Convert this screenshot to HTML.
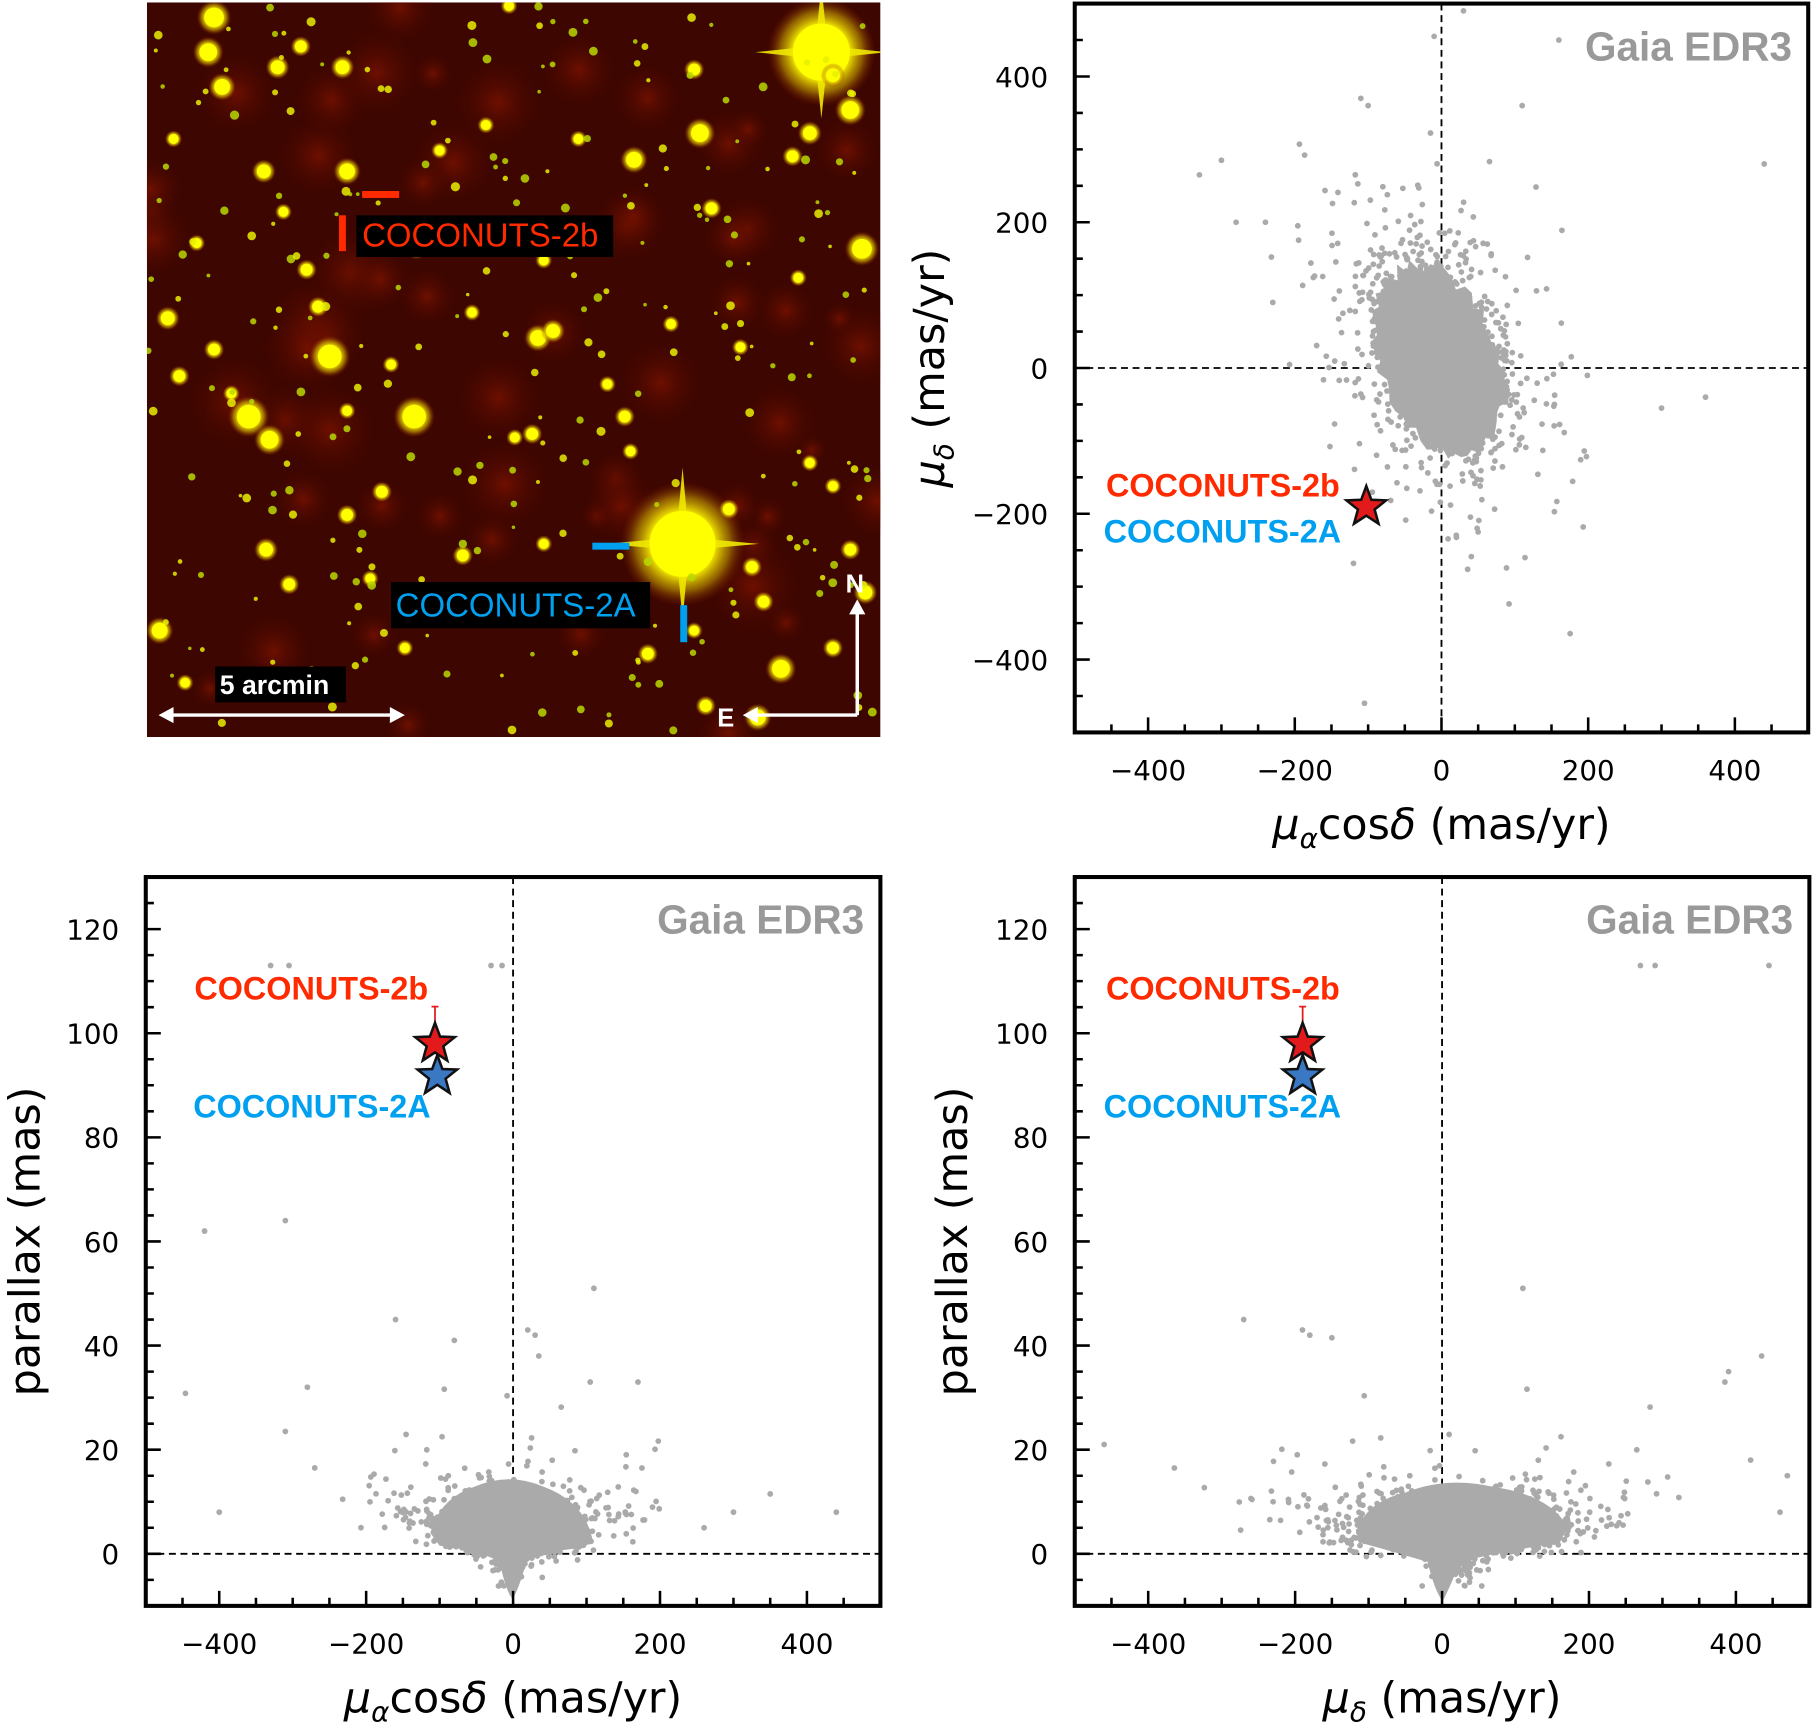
<!DOCTYPE html>
<html><head><meta charset="utf-8"><style>
html,body{margin:0;padding:0;background:#fff;}
svg{display:block;}
text{font-family:"DejaVu Sans","Liberation Sans",sans-serif;}
</style></head><body>
<svg id="s" width="1814" height="1724" viewBox="0 0 1568 1490" xmlns="http://www.w3.org/2000/svg">
<defs>
<radialGradient id="g1"><stop offset="0" stop-color="#ffff00"/><stop offset="0.5" stop-color="#f8f000"/><stop offset="0.75" stop-color="#c8a000" stop-opacity="0.6"/><stop offset="1" stop-color="#8a2000" stop-opacity="0"/></radialGradient>
<radialGradient id="g2"><stop offset="0" stop-color="#7a1200" stop-opacity="0.8"/><stop offset="1" stop-color="#3a0500" stop-opacity="0"/></radialGradient>
<clipPath id="imgclip"><rect x="127" y="2" width="634" height="635"/></clipPath>
<clipPath id="c1"><rect x="929" y="3" width="634" height="630"/></clipPath>
<clipPath id="c2"><rect x="126" y="758" width="635" height="630"/></clipPath>
<clipPath id="c3"><rect x="929" y="758" width="635" height="630"/></clipPath>
</defs>
<g id="img" clip-path="url(#imgclip)"><rect x="127" y="2" width="634" height="635" fill="#3e0600"/></g>
<g id="p1"></g><g id="p2"></g><g id="p3"></g>
</svg>
<script>
var S=document.getElementById('s'),NS='http://www.w3.org/2000/svg';
function el(p,t,a,txt){var e=document.createElementNS(NS,t);for(var k in a)e.setAttribute(k,a[k]);if(txt!=null)e.textContent=txt;(p||S).appendChild(e);return e;}
var seed=12345;function rnd(){seed=(seed*1103515245+12345)%2147483648;return seed/2147483648;}
function gs(){var u=rnd()||1e-9,v=rnd();return Math.sqrt(-2*Math.log(u))*Math.cos(2*Math.PI*v);}
// ---- image
var img=document.getElementById('img');
for(var i=0;i<60;i++){el(img,'circle',{cx:127+rnd()*634,cy:2+rnd()*635,r:15+rnd()*30,fill:'url(#g2)'});}
var big=[[710,45,26],[590,470,30]];
big.forEach(function(b){el(img,'circle',{cx:b[0],cy:b[1],r:b[2]*1.8,fill:'url(#g1)'});
 var L=b[2]*2.2;
 el(img,'path',{d:'M'+(b[0]-L)+' '+b[1]+' L'+b[0]+' '+(b[1]-6)+' L'+(b[0]+L)+' '+b[1]+' L'+b[0]+' '+(b[1]+6)+'Z M'+b[0]+' '+(b[1]-L)+' L'+(b[0]+6)+' '+b[1]+' L'+b[0]+' '+(b[1]+L)+' L'+(b[0]-6)+' '+b[1]+'Z',fill:'#f0e800',opacity:0.9});
 el(img,'circle',{cx:b[0],cy:b[1],r:b[2]*0.95,fill:'#ffff00'});});
var st=[[285,308,12],[358,360,12],[215,360,12],[233,380,9],[185,15,10],[192,75,8],[240,58,7],[228,148,7],[300,148,8],[296,58,7],[245,183,5],[185,302,6],[200,340,5],[155,325,6],[465,292,8],[478,286,7],[548,138,8],[605,115,9],[615,180,6],[700,115,7],[735,95,9],[745,215,10],[685,135,6],[720,65,7],[460,375,6],[445,378,5],[545,390,5],[540,360,6],[525,332,5],[470,225,5],[275,265,6],[265,233,6],[338,315,5],[300,355,5],[230,475,7],[300,445,6],[330,425,6],[250,505,6],[630,440,6],[650,490,6],[660,520,6],[675,578,9],[720,560,6],[735,475,6],[748,512,7],[600,545,5],[560,565,6],[408,270,5],[360,215,6],[420,108,5],[380,130,5],[180,45,9],[500,120,5],[440,5,5],[690,240,5],[640,300,5],[160,590,5],[138,545,8],[145,275,7],[320,500,5],[400,480,6],[470,470,5],[350,560,5],[610,610,6],[700,400,5],[720,420,5],[655,620,8],[580,280,5],[600,60,6],[260,40,6],[150,120,5],[170,210,5]];
st.forEach(function(b){el(img,'circle',{cx:b[0],cy:b[1],r:b[2]*1.5,fill:'url(#g1)'});el(img,'circle',{cx:b[0],cy:b[1],r:b[2]*0.85,fill:'#ffff00'});});
for(var i=0;i<260;i++){var x=127+rnd()*634,y=2+rnd()*635,r=1.5+rnd()*2.5;el(img,'circle',{cx:x,cy:y,r:r,fill:rnd()<0.5?'#b8d800':'#e8f000',opacity:0.85});}
// annotations
el(img,'rect',{x:313,y:165,width:32,height:6,fill:'#ff2a00'});el(img,'rect',{x:293,y:186,width:6,height:31,fill:'#ff2a00'});
el(img,'rect',{x:308,y:186,width:222,height:36,fill:'#000'});
el(img,'text',{x:313,y:213,'font-size':'28.5',fill:'#ff2a00',style:'font-family:Liberation Sans,sans-serif'},'COCONUTS-2b');
el(img,'rect',{x:512,y:469,width:32,height:6,fill:'#00a0f0'});el(img,'rect',{x:588,y:523,width:6,height:32,fill:'#00a0f0'});
el(img,'rect',{x:338,y:503,width:224,height:40,fill:'#000'});
el(img,'text',{x:342,y:533,'font-size':'28.5',fill:'#00a0f0',style:'font-family:Liberation Sans,sans-serif'},'COCONUTS-2A');
el(img,'rect',{x:186,y:576,width:113,height:31,fill:'#000'});
el(img,'text',{x:190,y:600,'font-size':'23','font-weight':'bold',fill:'#fff',style:'font-family:Liberation Sans,sans-serif'},'5 arcmin');
el(img,'line',{x1:145,y1:618,x2:342,y2:618,stroke:'#fff','stroke-width':3});
el(img,'path',{d:'M137 618 L150 611 L150 625Z M350 618 L337 611 L337 625Z',fill:'#fff'});
el(img,'path',{d:'M741 618 L741 528 M741 618 L650 618',stroke:'#fff','stroke-width':3,fill:'none'});
el(img,'path',{d:'M741 518 L734 531 L748 531Z M642 618 L655 611 L655 625Z',fill:'#fff'});
el(img,'text',{x:731,y:512,'font-size':'22','font-weight':'bold',fill:'#fff',style:'font-family:Liberation Sans,sans-serif'},'N');
el(img,'text',{x:620,y:628,'font-size':'22','font-weight':'bold',fill:'#fff',style:'font-family:Liberation Sans,sans-serif'},'E');
// ---- data
var D=[];
for(var i=0;i<16000;i++){var faint=rnd()<0.2;var pt,s,p;
 if(faint){pt=rnd()*1.5;s=10+8*pt;p=pt+gs()*2.6;}
 else{pt=1.5+(-Math.log(rnd()||1e-9))*3.2;if(rnd()<0.006)pt+=rnd()*25;s=28+9*pt;if(s>100)s=100+(s-100)*0.4;p=pt+gs()*1.2;}
 var pa=gs()*s*0.8-3,pd=gs()*s*1.1+18-0.55*pa;
 D.push([pa,pd,p]);}
var out=[[-330,265,0],[-300,285,0],[-110,370,0],[-100,360,0],[30,490,0],[-10,455,0],[160,450,0],[440,280,0],[110,360,0],[-240,200,0],[-280,200,0],[-230,90,0],[-120,-268,0],[-105,-460,0],[50,-225,0],[300,-55,0],[360,-40,0],[-420,0,62],[-310,0,64],[-330,0,113],[-305,0,113],[-15,0,113],[-30,0,113],[110,0,51],[-160,0,45],[-400,0,8],[440,0,8],[-280,0,32],[-310,0,23.5],[170,0,33],[105,0,33],[20,0,43],[30,0,42],[35,0,38],[-80,0,41],[300,0,8],[350,0,11.5],[260,0,5],[-270,0,16.5]];
function plot(g,x0,x1,y0,y1,X,Y,fx,fy,clip,blob){var gg=el(g,'g',{'clip-path':'url(#'+clip+')'});
 function px(v){return X[0]+(v-x0)/(x1-x0)*(X[1]-X[0]);}function py(v){return Y[1]-(v-y0)/(y1-y0)*(Y[1]-Y[0]);}
 el(gg,'line',{x1:px(0),y1:Y[0],x2:px(0),y2:Y[1],stroke:'#000','stroke-width':1.6,'stroke-dasharray':'6,4'});
 el(gg,'line',{x1:X[0],y1:py(0),x2:X[1],y2:py(0),stroke:'#000','stroke-width':1.6,'stroke-dasharray':'6,4'});
 var d='';D.forEach(function(r){var a=fx(r),b=fy(r);var x=px(a),y=py(b);d+='M'+x.toFixed(1)+' '+y.toFixed(1)+'h0.01';});
 el(gg,'path',{d:d,stroke:'#aaaaaa','stroke-width':5,'stroke-linecap':'round',fill:'none'});
 if(blob)blob(gg);
 return {px:px,py:py,g:gg};}
function axes(X,Y,x0,x1,y0,y1,xmaj,xmin,ymaj,ymin,xl,yl,ylx){
 var px=function(v){return X[0]+(v-x0)/(x1-x0)*(X[1]-X[0]);},py=function(v){return Y[1]-(v-y0)/(y1-y0)*(Y[1]-Y[0]);};
 var d='';for(var v=Math.ceil(x0/xmin)*xmin;v<=x1;v+=xmin){var x=px(v);if(x<=X[0]+2||x>=X[1]-2)continue;var L=(Math.abs(v%xmaj)<1e-6)?13:7;d+='M'+x+' '+Y[1]+'v'+(-L);}
 for(var v=Math.ceil(y0/ymin)*ymin;v<=y1;v+=ymin){var y=py(v);if(y<=Y[0]+2||y>=Y[1]-2)continue;var L=(Math.abs(v%ymaj)<1e-6)?13:7;d+='M'+X[0]+' '+y+'h'+L;}
 el(null,'path',{d:d,stroke:'#000','stroke-width':2.2,fill:'none'});
 el(null,'rect',{x:X[0],y:Y[0],width:X[1]-X[0],height:Y[1]-Y[0],fill:'none',stroke:'#000','stroke-width':3.5});
 for(var v=Math.ceil(x0/xmaj)*xmaj;v<=x1;v+=xmaj){if(Math.abs(v)>=500)continue;el(null,'text',{x:px(v),y:Y[1]+41,'text-anchor':'middle','font-size':'24'},(v<0?'\u2212':'')+Math.abs(v));}
 for(var v=Math.ceil(y0/ymaj)*ymaj;v<=y1;v+=ymaj){if(Math.abs(v)>=500)continue;el(null,'text',{x:X[0]-23,y:py(v)+9,'text-anchor':'end','font-size':'24'},(v<0?'\u2212':'')+Math.abs(v));}
 el(null,'text',{x:(X[0]+X[1])/2,y:Y[1]+92,'text-anchor':'middle','font-size':'37'}).innerHTML=xl;
 var t=el(null,'text',{x:ylx,y:(Y[0]+Y[1])/2,'text-anchor':'middle','font-size':'37',transform:'rotate(-90 '+ylx+' '+((Y[0]+Y[1])/2)+')'});t.innerHTML=yl;
 el(null,'text',{x:X[1]-14,y:Y[0]+49,'text-anchor':'end','font-size':'35','font-weight':'bold',fill:'#999',style:'font-family:Liberation Sans,sans-serif'},'Gaia EDR3');
 return {px:px,py:py};}
function star(x,y,r,fill){var d='';for(var k=0;k<10;k++){var a=-Math.PI/2+k*Math.PI/5,rr=k%2?r*0.42:r;d+=(k?'L':'M')+(x+rr*Math.cos(a)).toFixed(1)+' '+(y+rr*Math.sin(a)).toFixed(1);}el(null,'path',{d:d+'Z',fill:fill,stroke:'#111','stroke-width':2.2,'stroke-linejoin':'miter'});}
function lab(x,y,t,c){el(null,'text',{x:x,y:y,'font-size':'28','font-weight':'bold',fill:c,style:'font-family:Liberation Sans,sans-serif'},t);}
function bumpy(g,cx,cy,rx,ry,rot,n){var d='';for(var k=0;k<n;k++){var a=k/n*2*Math.PI,f=0.9+rnd()*0.15;var x=rx*f*Math.cos(a),y=ry*f*Math.sin(a);var c=Math.cos(rot),s=Math.sin(rot);d+=(k?'L':'M')+(cx+x*c-y*s).toFixed(1)+' '+(cy+x*s+y*c).toFixed(1);}el(g,'path',{d:d+'Z',fill:'#aaaaaa'});}
var MU='<tspan font-style="italic">\u03bc</tspan>';
// plot1
var a1=plot(document.getElementById('p1'),-500,500,-500,500,[929,1563],[3,633],function(r){return r[0]},function(r){return r[1]},'c1',function(g){bumpy(g,1244,312,52,88,-0.35,60);});
out.forEach(function(o){if(o[2]===0){el(a1.g,'circle',{cx:a1.px(o[0]),cy:a1.py(o[1]),r:2.5,fill:'#aaa'});}});
axes([929,1563],[3,633],-500,500,-500,500,200,50,200,50,MU+'<tspan font-size="24" dy="8" font-style="italic">\u03b1</tspan><tspan dy="-8">cos</tspan><tspan font-style="italic">\u03b4</tspan> (mas/yr)',MU+'<tspan font-size="24" dy="8" font-style="italic">\u03b4</tspan><tspan dy="-8"> (mas/yr)</tspan>',816);
star(1181,438,18,'#e31a1c');lab(956,429,'COCONUTS-2b','#ff2a00');lab(954,469,'COCONUTS-2A','#00a0f0');
// plot2
var a2=plot(document.getElementById('p2'),-500,500,-10,130,[126,761],[758,1388],function(r){return r[0]},function(r){return r[2]},'c2',function(g){
 el(g,'path',{d:'M372 1325 Q380 1295 410 1285 Q440 1272 470 1285 Q505 1298 512 1330 L505 1338 Q470 1340 455 1350 Q448 1375 443 1382 Q437 1375 432 1350 Q415 1340 380 1336Z',fill:'#aaaaaa'});});
out.forEach(function(o){if(o[2]!==0){el(a2.g,'circle',{cx:a2.px(o[0]),cy:a2.py(o[2]),r:2.5,fill:'#aaa'});}});
axes([126,761],[758,1388],-500,500,-10,130,200,50,20,5,MU+'<tspan font-size="24" dy="8" font-style="italic">\u03b1</tspan><tspan dy="-8">cos</tspan><tspan font-style="italic">\u03b4</tspan> (mas/yr)','parallax (mas)',34);
el(null,'line',{x1:376,y1:870,x2:376,y2:900,stroke:'#e31a1c','stroke-width':1.5});el(null,'line',{x1:373,y1:870,x2:379,y2:870,stroke:'#e31a1c','stroke-width':1.5});
star(378,930,18,'#3a78c4');star(376,902,18,'#e31a1c');
lab(168,864,'COCONUTS-2b','#ff2a00');lab(167,966,'COCONUTS-2A','#00a0f0');
// plot3
var a3=plot(document.getElementById('p3'),-500,500,-10,130,[929,1564],[758,1388],function(r){return r[1]},function(r){return r[2]},'c3',function(g){
 el(g,'path',{d:'M1172 1325 Q1180 1298 1215 1290 Q1250 1276 1290 1285 Q1340 1292 1355 1320 L1348 1334 Q1300 1340 1262 1350 Q1252 1375 1247 1384 Q1240 1375 1234 1350 Q1200 1340 1178 1334Z',fill:'#aaaaaa'});});
var o3=[[-460,21],[-270,45],[-190,43],[-180,42],[-150,41.5],[-110,13],[270,113],[290,113],[445,113],[110,51],[435,38],[390,35],[385,33],[460,8],[470,15],[420,18],[-230,10]];
o3.forEach(function(o){el(a3.g,'circle',{cx:a3.px(o[0]),cy:a3.py(o[1]),r:2.5,fill:'#aaa'});});
axes([929,1564],[758,1388],-500,500,-10,130,200,50,20,5,MU+'<tspan font-size="24" dy="8" font-style="italic">\u03b4</tspan><tspan dy="-8"> (mas/yr)</tspan>','parallax (mas)',836);
el(null,'line',{x1:1126,y1:870,x2:1126,y2:900,stroke:'#e31a1c','stroke-width':1.5});el(null,'line',{x1:1123,y1:870,x2:1129,y2:870,stroke:'#e31a1c','stroke-width':1.5});
star(1126,930,18,'#3a78c4');star(1126,902,18,'#e31a1c');
lab(956,864,'COCONUTS-2b','#ff2a00');lab(954,966,'COCONUTS-2A','#00a0f0');
</script>
</body></html>
